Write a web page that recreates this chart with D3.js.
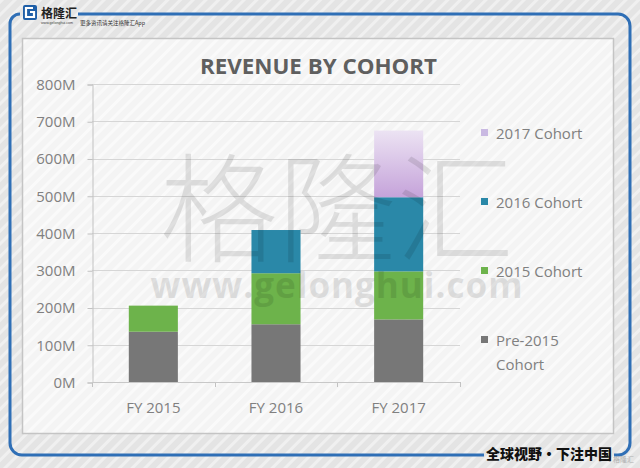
<!DOCTYPE html>
<html>
<head>
<meta charset="utf-8">
<script src="https://cdn.jsdelivr.net/npm/d3@7"></script>
<style>
  html, body { margin: 0; padding: 0; background: #e8e8e8; }
  svg { display: block; }
</style>
</head>
<body>
<script>
// ---- data ----
const categories = ["FY 2015", "FY 2016", "FY 2017"];
const seriesNames = ["Pre-2015 Cohort", "2015 Cohort", "2016 Cohort", "2017 Cohort"];
const pre2015Cohort = [135, 155, 168];
const cohort2015 = [70, 137, 129];
const cohort2016 = [0, 116, 199];
const cohort2017 = [0, 0, 179];
const yTickValues = [0, 100, 200, 300, 400, 500, 600, 700, 800];
const yTickLabels = ["0M", "100M", "200M", "300M", "400M", "500M", "600M", "700M", "800M"];
const legendLabels = [["2017 Cohort"], ["2016 Cohort"], ["2015 Cohort"], ["Pre-2015", "Cohort"]];
const legendKeys = ["2017 Cohort", "2016 Cohort", "2015 Cohort", "Pre-2015 Cohort"];

const W = 640, H = 468;
const svg = d3.select("body").append("svg").attr("width", W).attr("height", H);
const defs = svg.append("defs");

// stripes
function stripe(id, bg, lineColor, op) {
  const p = defs.append("pattern").attr("id", id).attr("patternUnits", "userSpaceOnUse")
    .attr("width", 9).attr("height", 9).attr("patternTransform", "rotate(45)");
  p.append("rect").attr("width", 9).attr("height", 9).attr("fill", bg);
  p.append("rect").attr("x", 0).attr("width", 3).attr("height", 9).attr("fill", lineColor).attr("opacity", op);
}
stripe("outerStripe", "#e4e4e4", "#f2f2f2", 0.9);
stripe("innerStripe", "#f4f4f4", "#fbfbfb", 0.9);

const grad = defs.append("linearGradient").attr("id", "purpleGrad")
  .attr("x1", 0).attr("y1", 0).attr("x2", 0).attr("y2", 1);
grad.append("stop").attr("offset", "0%").attr("stop-color", "#ece3f3");
grad.append("stop").attr("offset", "100%").attr("stop-color", "#c5a3da");

svg.append("rect").attr("width", W).attr("height", H).attr("fill", "url(#outerStripe)");

// inner panel
svg.append("rect").attr("x", 22.5).attr("y", 38.5).attr("width", 591).attr("height", 395)
  .attr("fill", "url(#innerStripe)").attr("stroke", "#c4c4c4").attr("stroke-width", 1.5);

// blue frame
const blue = "#2f6fb6";
const frame = d3.path();
frame.moveTo(78, 14); frame.lineTo(618, 14);
frame.arcTo(630, 14, 630, 26, 12); frame.lineTo(630, 443);
frame.arcTo(630, 455, 618, 455, 12); frame.lineTo(614, 455);
svg.append("path").attr("d", frame.toString()).attr("fill", "none").attr("stroke", blue).attr("stroke-width", 3);
const frame2 = d3.path();
frame2.moveTo(20, 14); frame2.arcTo(10, 14, 10, 26, 10); frame2.lineTo(10, 443);
frame2.arcTo(10, 455, 22, 455, 12); frame2.lineTo(484, 455);
svg.append("path").attr("d", frame2.toString()).attr("fill", "none").attr("stroke", blue).attr("stroke-width", 3);

// logo
svg.append("rect").attr("x", 23).attr("y", 5).attr("width", 14).attr("height", 15).attr("rx", 2).attr("fill", "#1f5fa8");
svg.append("path").attr("d", "M33,8 L26,8 L26,17 L34,17 L34,12 L30,12").attr("fill", "none").attr("stroke", "#fff").attr("stroke-width", 2.2);
svg.append("text").attr("x", 41).attr("y", 18).text("格隆汇")
  .attr("font-family", "Noto Sans CJK SC").attr("font-weight", 700).attr("font-size", 12).attr("fill", "#222");
svg.append("text").attr("x", 41).attr("y", 23.5).text("www.gelonghui.com")
  .attr("font-family", "Liberation Sans").attr("font-size", 3.6).attr("fill", "#444");
svg.append("text").attr("x", 80).attr("y", 25).text("更多资讯请关注格隆汇App")
  .attr("font-family", "Noto Sans CJK SC").attr("font-size", 5.5).attr("fill", "#333");

// bottom slogan
svg.append("text").attr("x", 486).attr("y", 459).text("全球视野・下注中国")
  .attr("font-family", "Noto Sans CJK SC").attr("font-weight", 900).attr("font-size", 14).attr("fill", "#111")
  .attr("textLength", 126).attr("lengthAdjust", "spacingAndGlyphs");
svg.append("text").attr("x", 613).attr("y", 462).text("格隆汇")
  .attr("font-family", "Noto Sans CJK SC").attr("font-size", 7).attr("fill", "#b0b0b0");

// title
svg.append("text").attr("x", 318.5).attr("y", 74).attr("text-anchor", "middle").text("REVENUE BY COHORT")
  .attr("font-family", "Open Sans").attr("font-weight", 700).attr("font-size", 22).attr("fill", "#5f5f5f")
  .attr("textLength", 237).attr("lengthAdjust", "spacingAndGlyphs");

// scales
const plotLeft = 92, plotRight = 460, plotTop = 84, plotBottom = 382;
const x = d3.scaleBand().domain(categories).range([plotLeft, plotRight]).paddingInner(0.6).paddingOuter(0.3);
const xOuter = d3.scaleBand().domain(categories).range([plotLeft, plotRight]).padding(0);
const y = d3.scaleLinear().domain([0, 800]).range([plotBottom, plotTop]);

// gridlines
svg.append("g").selectAll("line").data(yTickValues).join("line")
  .attr("x1", plotLeft).attr("x2", plotRight)
  .attr("y1", d => Math.round(y(d)) + 0.5).attr("y2", d => Math.round(y(d)) + 0.5)
  .attr("stroke", "#d6d6d6").attr("stroke-width", 1);

// y axis
const yAxis = d3.axisLeft(y).tickValues(yTickValues).tickFormat((d, i) => yTickLabels[i]).tickSize(5).tickPadding(12);
const gy = svg.append("g").attr("transform", `translate(${plotLeft + 0.5},0.5)`).call(yAxis);
gy.select(".domain").attr("stroke", "#c2c2c2");
gy.selectAll(".tick line").attr("stroke", "#c2c2c2");
gy.selectAll("text").attr("font-family", "Open Sans").attr("font-size", 15).attr("fill", "#808080");

// x axis ticks (category boundaries)
const boundaries = categories.map(c => xOuter(c)).concat([plotRight]);
svg.append("g").selectAll("line").data(boundaries).join("line")
  .attr("x1", d => Math.round(d) + 0.5).attr("x2", d => Math.round(d) + 0.5)
  .attr("y1", plotBottom).attr("y2", plotBottom + 5).attr("stroke", "#c2c2c2");
svg.append("line").attr("x1", plotLeft).attr("x2", plotRight).attr("y1", plotBottom + 0.5).attr("y2", plotBottom + 0.5)
  .attr("stroke", "#c8c8c8");
svg.append("g").selectAll("text").data(categories).join("text")
  .attr("x", d => x(d) + x.bandwidth() / 2).attr("y", 413).attr("text-anchor", "middle")
  .text(d => d).attr("font-family", "Open Sans").attr("font-size", 15).attr("fill", "#808080");

// stacked bars
const table = categories.map((c, i) => ({
  cat: c,
  "Pre-2015 Cohort": pre2015Cohort[i],
  "2015 Cohort": cohort2015[i],
  "2016 Cohort": cohort2016[i],
  "2017 Cohort": cohort2017[i]
}));
const colors = {
  "Pre-2015 Cohort": "#777777",
  "2015 Cohort": "#6db34b",
  "2016 Cohort": "#2a88a8",
  "2017 Cohort": "url(#purpleGrad)"
};
const legendColors = {
  "Pre-2015 Cohort": "#777777",
  "2015 Cohort": "#6db34b",
  "2016 Cohort": "#2a88a8",
  "2017 Cohort": "#c9b9e2"
};
const stacked = d3.stack().keys(seriesNames)(table);
svg.append("g").selectAll("g").data(stacked).join("g")
  .attr("fill", d => colors[d.key])
  .selectAll("rect").data(d => d.filter(s => s[1] - s[0] > 0)).join("rect")
  .attr("x", d => x(d.data.cat)).attr("width", x.bandwidth())
  .attr("y", d => y(d[1])).attr("height", d => y(d[0]) - y(d[1]));

// watermark
svg.append("text").attr("x", 337).attr("y", 253).attr("text-anchor", "middle").text("格隆汇")
  .attr("font-family", "Noto Sans CJK SC").attr("font-weight", 300).attr("font-size", 118)
  .attr("fill", "#000").attr("opacity", 0.1);
svg.append("text").attr("x", 337).attr("y", 298).attr("text-anchor", "middle").text("www.gelonghui.com")
  .attr("font-family", "Open Sans").attr("font-weight", 700).attr("font-size", 35).attr("letter-spacing", 1)
  .attr("fill", "#000").attr("opacity", 0.1);

// legend
const legendTop = 134, legendStep = 69;
const lg = svg.append("g").selectAll("g").data(legendKeys).join("g")
  .attr("transform", (d, i) => `translate(481,${legendTop + i * legendStep})`);
lg.append("rect").attr("x", 0).attr("y", -5).attr("width", 7).attr("height", 7).attr("fill", d => legendColors[d]);
lg.each(function (d, i) {
  const t = d3.select(this).append("text").attr("font-family", "Open Sans").attr("font-size", 15).attr("fill", "#808080");
  legendLabels[i].forEach((line, j) => {
    t.append("tspan").attr("x", 15).attr("y", 5 + j * 24).text(line);
  });
});
</script>
</body>
</html>
